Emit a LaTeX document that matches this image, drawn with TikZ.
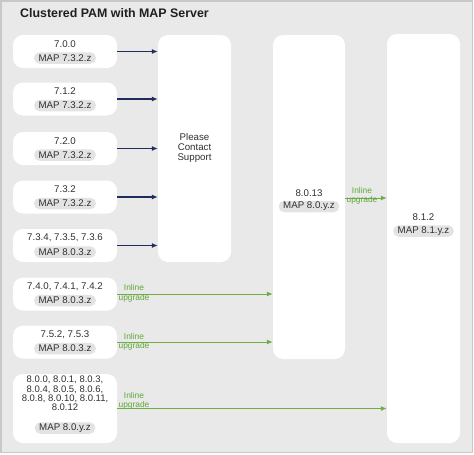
\documentclass[tikz,border=0pt]{standalone}
\usepackage{fontspec}
\setmainfont{Liberation Sans}
\usetikzlibrary{arrows.meta}
\definecolor{bg}{HTML}{E9E9E9}
\definecolor{framec}{HTML}{C8C8C8}
\definecolor{pillc}{HTML}{E3E3E3}
\definecolor{txt}{HTML}{303030}
\definecolor{navy}{HTML}{1F2D5E}
\definecolor{grn}{HTML}{6FAD47}
\definecolor{grntxt}{HTML}{5FA83A}
\begin{document}
\begin{tikzpicture}[x=1pt,y=-1pt,
  card/.style={draw=none, fill=white, rounded corners=10pt, inner sep=0pt},
  lbl/.style={font=\fontsize{9.7}{9.6}\selectfont, text=txt, align=center, inner sep=0pt},
  pill/.style={fill=pillc, rounded corners=5.5pt, minimum height=11.5pt, inner xsep=4.5pt, inner ysep=0pt, font=\fontsize{9.7}{10}\selectfont, text=txt},
  navyarrow/.style={draw=navy, line width=1.2pt, -{Latex[length=6pt,width=5pt]}},
  grnarrow/.style={draw=grn, line width=1pt, -{Latex[length=6pt,width=5pt]}},
  uplbl/.style={font=\fontsize{8.4}{9.5}\selectfont, text=grntxt, align=center, inner sep=0pt}]
\useasboundingbox (0,0) rectangle (474,455);
\fill[white] (0,0) rectangle (474,455);
\draw[fill=bg, draw=framec, line width=1.5pt] (0.75,0.75) rectangle (472.5,452.5);
\node[anchor=west, font=\fontsize{12.4}{14}\selectfont\bfseries, text=black!88, inner sep=0pt] (title) at (20,13) {Clustered PAM with MAP Server};

% big boxes
\node[card, minimum width=73pt, minimum height=227pt] (sup) at (194.5,148.5) {};
\node[card, minimum width=72pt, minimum height=324pt] (v8013) at (309,197) {};
\node[card, minimum width=73pt, minimum height=409pt] (v812) at (423.5,238.5) {};

\node[lbl, font=\fontsize{9.7}{10.2}\selectfont] (suptxt) at (194.5,148) {Please\\Contact\\Support};
\node[lbl] (t8013) at (309,193) {8.0.13};
\node[pill] (p8013) at (309,206.5) {MAP 8.0.y.z};
\node[lbl] (t812) at (423.5,217) {8.1.2};
\node[pill] (p812) at (423.5,231) {MAP 8.1.y.z};

% left boxes
\foreach \i/\c/\t/\p in {1/51.5/7.0.0/MAP 7.3.2.z, 2/99/7.1.2/MAP 7.3.2.z, 3/148.5/7.2.0/MAP 7.3.2.z, 4/197/7.3.2/MAP 7.3.2.z, 5/245.5/{7.3.4, 7.3.5, 7.3.6}/MAP 8.0.3.z, 6/294/{7.4.0, 7.4.1, 7.4.2}/MAP 8.0.3.z, 7/342/{7.5.2, 7.5.3}/MAP 8.0.3.z}{
  \node[card, minimum width=104pt, minimum height=33pt] (b\i) at (65,\c) {};
  \node[lbl] (t\i) at (65,\c-7.5) {\t};
  \node[pill] (p\i) at (65,\c+6.5) {\p};
}
\node[card, minimum width=104pt, minimum height=69pt] (b8) at (65,408.5) {};
\node[lbl, font=\fontsize{9.5}{9.2}\selectfont] (t8) at (65,393.5) {8.0.0, 8.0.1, 8.0.3,\\8.0.4, 8.0.5, 8.0.6,\\8.0.8, 8.0.10, 8.0.11,\\8.0.12};
\node[pill] (p8) at (65,428) {MAP 8.0.y.z};

% arrows
\foreach \i in {1,...,5}{
  \draw[navyarrow] (b\i.east) -- (sup.west |- b\i.east);
}
\draw[grnarrow] (b6.east) -- (v8013.west |- b6.east);
\draw[grnarrow] (b7.east) -- (v8013.west |- b7.east);
\draw[grnarrow] (b8.east) -- (v812.west |- b8.east);
\draw[grnarrow] (v8013.east |- 0,198) -- (v812.west |- 0,198);

\node[uplbl] (u6) at (134,293.5) {Inline\\upgrade};
\node[uplbl] (u7) at (134,342) {Inline\\upgrade};
\node[uplbl] (u8) at (134,401) {Inline\\upgrade};
\node[uplbl] (um) at (362,196) {Inline\\upgrade};
\end{tikzpicture}
\end{document}
